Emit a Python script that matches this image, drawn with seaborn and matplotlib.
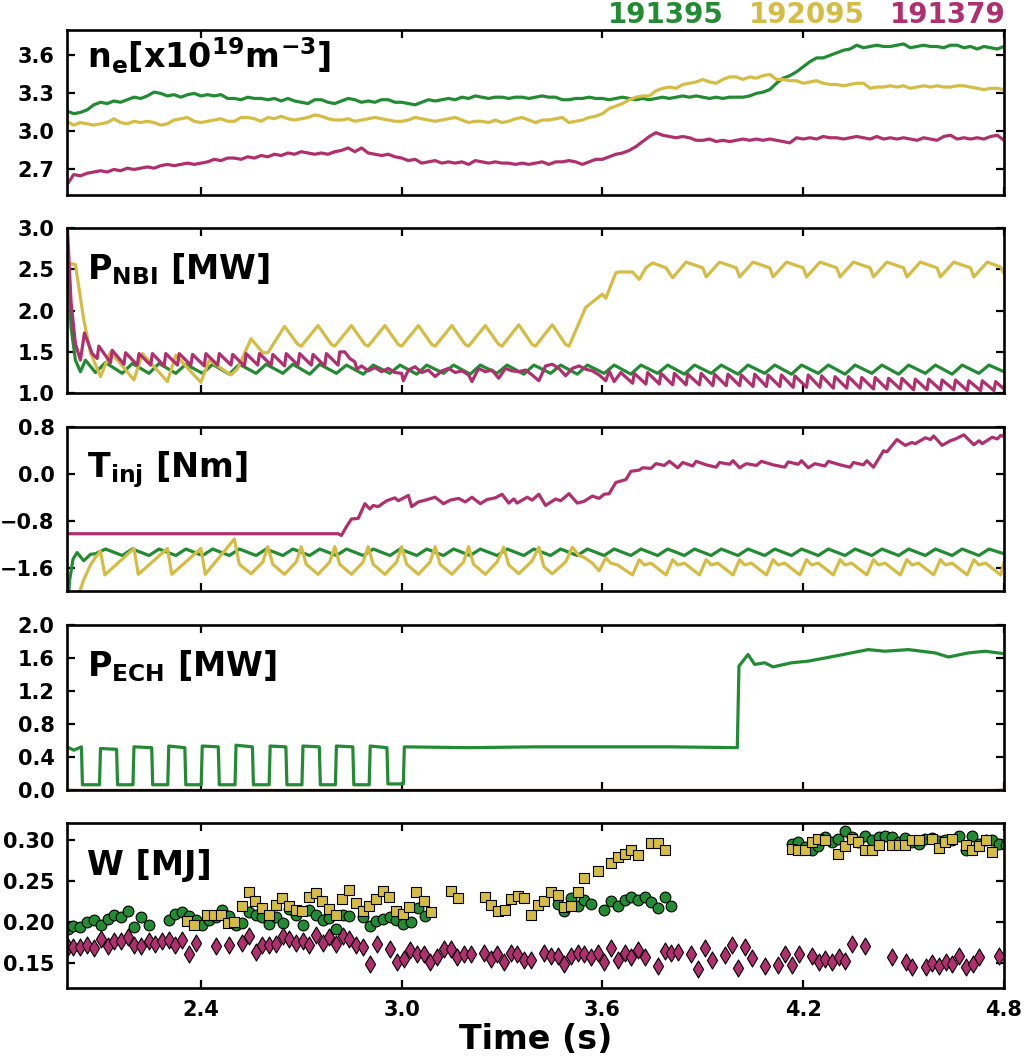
import numpy as np
import pandas as pd
import matplotlib
matplotlib.use("Agg")
import matplotlib.pyplot as plt
import seaborn as sns
from matplotlib.lines import Line2D
from matplotlib.ticker import FuncFormatter

# ---------------- data ----------------
SHOTS = ["191395", "192095", "191379"]
COLORS = {"191395": "#238B34", "192095": "#D5BD45", "191379": "#B0306F"}

# line-averaged density, sampled every 0.02 s from 2.00 to 4.80 s
NE_T = np.round(2.0 + 0.02 * np.arange(141), 2)
NE_191395 = [3.16, 3.14, 3.15, 3.17, 3.21, 3.23, 3.22, 3.24, 3.23, 3.25,
             3.27, 3.26, 3.28, 3.31, 3.30, 3.28, 3.29, 3.27, 3.29, 3.30,
             3.28, 3.29, 3.28, 3.29, 3.26, 3.26, 3.25, 3.27, 3.26, 3.26,
             3.25, 3.26, 3.24, 3.26, 3.24, 3.23, 3.22, 3.25, 3.25, 3.23,
             3.22, 3.24, 3.26, 3.25, 3.23, 3.24, 3.23, 3.25, 3.25, 3.23,
             3.23, 3.22, 3.21, 3.23, 3.25, 3.24, 3.25, 3.26, 3.25, 3.27,
             3.26, 3.28, 3.27, 3.26, 3.27, 3.27, 3.26, 3.27, 3.27, 3.26,
             3.27, 3.28, 3.27, 3.27, 3.25, 3.25, 3.26, 3.26, 3.27, 3.26,
             3.26, 3.25, 3.26, 3.27, 3.26, 3.25, 3.26, 3.25, 3.26, 3.27,
             3.26, 3.27, 3.28, 3.27, 3.28, 3.27, 3.26, 3.27, 3.26, 3.27,
             3.27, 3.27, 3.28, 3.30, 3.31, 3.33, 3.38, 3.42, 3.44, 3.47,
             3.51, 3.55, 3.58, 3.58, 3.60, 3.62, 3.64, 3.65, 3.68, 3.66,
             3.67, 3.68, 3.67, 3.67, 3.68, 3.69, 3.66, 3.67, 3.68, 3.67,
             3.67, 3.66, 3.68, 3.68, 3.66, 3.67, 3.65, 3.67, 3.66, 3.65,
             3.67]
NE_192095 = [3.08, 3.05, 3.07, 3.06, 3.05, 3.06, 3.07, 3.10, 3.07, 3.06,
             3.08, 3.07, 3.08, 3.07, 3.05, 3.06, 3.09, 3.10, 3.11, 3.08,
             3.07, 3.08, 3.09, 3.10, 3.08, 3.08, 3.11, 3.11, 3.10, 3.08,
             3.11, 3.10, 3.12, 3.10, 3.09, 3.10, 3.11, 3.13, 3.12, 3.10,
             3.09, 3.09, 3.10, 3.08, 3.09, 3.10, 3.11, 3.10, 3.09, 3.08,
             3.08, 3.09, 3.11, 3.10, 3.09, 3.08, 3.09, 3.10, 3.11, 3.09,
             3.07, 3.08, 3.08, 3.07, 3.09, 3.07, 3.08, 3.10, 3.11, 3.09,
             3.07, 3.09, 3.09, 3.10, 3.11, 3.07, 3.08, 3.09, 3.11, 3.12,
             3.14, 3.18, 3.20, 3.22, 3.25, 3.27, 3.28, 3.28, 3.32, 3.34,
             3.35, 3.34, 3.37, 3.38, 3.39, 3.41, 3.39, 3.38, 3.41, 3.43,
             3.43, 3.41, 3.43, 3.42, 3.44, 3.45, 3.41, 3.41, 3.40, 3.40,
             3.38, 3.39, 3.40, 3.38, 3.37, 3.37, 3.36, 3.37, 3.38, 3.38,
             3.34, 3.35, 3.35, 3.36, 3.35, 3.36, 3.34, 3.35, 3.36, 3.35,
             3.36, 3.35, 3.35, 3.36, 3.36, 3.35, 3.34, 3.33, 3.34, 3.34,
             3.33]
NE_191379 = [2.58, 2.66, 2.65, 2.67, 2.68, 2.69, 2.68, 2.70, 2.69, 2.71,
             2.70, 2.71, 2.72, 2.71, 2.73, 2.74, 2.73, 2.74, 2.75, 2.74,
             2.75, 2.76, 2.78, 2.77, 2.79, 2.79, 2.78, 2.80, 2.79, 2.81,
             2.80, 2.82, 2.81, 2.83, 2.82, 2.84, 2.83, 2.82, 2.83, 2.82,
             2.84, 2.85, 2.87, 2.84, 2.87, 2.83, 2.82, 2.81, 2.82, 2.80,
             2.79, 2.77, 2.78, 2.75, 2.76, 2.77, 2.75, 2.76, 2.75, 2.76,
             2.74, 2.77, 2.76, 2.75, 2.76, 2.75, 2.75, 2.74, 2.75, 2.74,
             2.75, 2.76, 2.74, 2.76, 2.76, 2.77, 2.76, 2.74, 2.76, 2.78,
             2.78, 2.80, 2.82, 2.83, 2.85, 2.88, 2.92, 2.96, 2.99, 2.97,
             2.96, 2.95, 2.96, 2.95, 2.93, 2.93, 2.94, 2.92, 2.93, 2.92,
             2.93, 2.94, 2.93, 2.94, 2.93, 2.94, 2.93, 2.92, 2.91, 2.95,
             2.94, 2.95, 2.94, 2.96, 2.95, 2.95, 2.94, 2.95, 2.96, 2.95,
             2.94, 2.96, 2.94, 2.95, 2.94, 2.95, 2.94, 2.93, 2.95, 2.94,
             2.93, 2.96, 2.97, 2.94, 2.95, 2.94, 2.95, 2.94, 2.96, 2.97,
             2.93]

# NBI power (time, MW) vertices
PNBI_191395 = [(2.000, 2.90), (2.012, 1.80), (2.025, 1.40), (2.040, 1.26), (2.055, 1.40), (2.085, 1.25),
               (2.115, 1.37), (2.165, 1.24), (2.195, 1.36), (2.245, 1.24), (2.275, 1.36), (2.325, 1.24),
               (2.355, 1.35), (2.405, 1.24), (2.435, 1.35), (2.485, 1.23), (2.515, 1.35), (2.565, 1.24),
               (2.595, 1.35), (2.645, 1.24), (2.675, 1.35), (2.725, 1.23), (2.755, 1.35), (2.805, 1.24),
               (2.835, 1.34), (2.885, 1.23), (2.915, 1.34), (2.965, 1.24), (2.995, 1.34), (3.045, 1.23),
               (3.075, 1.34), (3.125, 1.24), (3.155, 1.34), (3.205, 1.23), (3.235, 1.34), (3.285, 1.24),
               (3.315, 1.34), (3.365, 1.23), (3.395, 1.34), (3.445, 1.24), (3.475, 1.34), (3.525, 1.23),
               (3.555, 1.34), (3.605, 1.24), (3.635, 1.34), (3.685, 1.23), (3.715, 1.34), (3.765, 1.24),
               (3.795, 1.34), (3.845, 1.23), (3.875, 1.34), (3.925, 1.24), (3.955, 1.34), (4.005, 1.23),
               (4.035, 1.34), (4.085, 1.24), (4.115, 1.34), (4.165, 1.23), (4.195, 1.34), (4.245, 1.24),
               (4.275, 1.34), (4.325, 1.23), (4.355, 1.34), (4.405, 1.24), (4.435, 1.34), (4.485, 1.23),
               (4.515, 1.34), (4.565, 1.24), (4.595, 1.34), (4.645, 1.23), (4.675, 1.34), (4.725, 1.24),
               (4.755, 1.34), (4.800, 1.26)]
PNBI_192095 = [(2.000, 2.58), (2.025, 2.56), (2.050, 1.89), (2.070, 1.49), (2.100, 1.20), (2.130, 1.50),
               (2.200, 1.16), (2.225, 1.48), (2.300, 1.14), (2.325, 1.46), (2.400, 1.13), (2.425, 1.40),
               (2.490, 1.22), (2.510, 1.30), (2.550, 1.66), (2.585, 1.49), (2.600, 1.49), (2.650, 1.81),
               (2.690, 1.59), (2.700, 1.57), (2.750, 1.82), (2.790, 1.59), (2.800, 1.57), (2.850, 1.82),
               (2.890, 1.59), (2.900, 1.57), (2.950, 1.82), (2.990, 1.59), (3.000, 1.57), (3.050, 1.82),
               (3.090, 1.59), (3.100, 1.57), (3.150, 1.82), (3.190, 1.59), (3.200, 1.57), (3.250, 1.82),
               (3.290, 1.59), (3.300, 1.57), (3.350, 1.83), (3.390, 1.59), (3.400, 1.57), (3.450, 1.83),
               (3.490, 1.59), (3.500, 1.57), (3.550, 2.04), (3.590, 2.17), (3.600, 2.20), (3.610, 2.15),
               (3.640, 2.46), (3.650, 2.47), (3.690, 2.47), (3.710, 2.38), (3.730, 2.52), (3.750, 2.58),
               (3.790, 2.52), (3.810, 2.40), (3.850, 2.59), (3.900, 2.52), (3.910, 2.41), (3.950, 2.59),
               (4.000, 2.52), (4.010, 2.41), (4.050, 2.59), (4.100, 2.52), (4.110, 2.41), (4.150, 2.59),
               (4.200, 2.52), (4.210, 2.41), (4.250, 2.59), (4.300, 2.52), (4.310, 2.41), (4.350, 2.59),
               (4.400, 2.52), (4.410, 2.41), (4.450, 2.59), (4.500, 2.52), (4.510, 2.41), (4.550, 2.59),
               (4.600, 2.52), (4.610, 2.41), (4.650, 2.59), (4.700, 2.52), (4.710, 2.41), (4.750, 2.59),
               (4.790, 2.53), (4.800, 2.45)]
PNBI_191379 = [(2.000, 3.10), (2.012, 2.10), (2.025, 1.60), (2.040, 1.40), (2.052, 1.73), (2.075, 1.48),
               (2.090, 1.42), (2.095, 1.57), (2.130, 1.37), (2.135, 1.52), (2.170, 1.35),
               (2.175, 1.49), (2.210, 1.34), (2.215, 1.48), (2.250, 1.34), (2.255, 1.48), (2.290, 1.33),
               (2.295, 1.48), (2.330, 1.34), (2.335, 1.48), (2.370, 1.34), (2.375, 1.47), (2.410, 1.33),
               (2.415, 1.48), (2.450, 1.34), (2.455, 1.48), (2.490, 1.34), (2.495, 1.47), (2.530, 1.33),
               (2.535, 1.48), (2.570, 1.34), (2.575, 1.48), (2.610, 1.34), (2.615, 1.47), (2.650, 1.33),
               (2.655, 1.48), (2.690, 1.34), (2.695, 1.48), (2.730, 1.34), (2.735, 1.47), (2.770, 1.33),
               (2.775, 1.48), (2.810, 1.34),
               (2.815, 1.50), (2.830, 1.50), (2.845, 1.42), (2.860, 1.38), (2.866, 1.29), (2.880, 1.33),
               (2.900, 1.27), (2.920, 1.31), (2.940, 1.26), (2.960, 1.30), (2.980, 1.25), (3.000, 1.24),
               (3.005, 1.15), (3.020, 1.28), (3.040, 1.32), (3.060, 1.25), (3.080, 1.28), (3.100, 1.20),
               (3.120, 1.27), (3.140, 1.30), (3.160, 1.25), (3.180, 1.27), (3.200, 1.22), (3.210, 1.14),
               (3.230, 1.30), (3.250, 1.26), (3.270, 1.28), (3.290, 1.18), (3.310, 1.30), (3.330, 1.27),
               (3.350, 1.26), (3.370, 1.28), (3.390, 1.22), (3.410, 1.15), (3.430, 1.33), (3.450, 1.35),
               (3.470, 1.30), (3.490, 1.21), (3.510, 1.30), (3.530, 1.33), (3.550, 1.29), (3.570, 1.27),
               (3.590, 1.22), (3.610, 1.15), (3.620, 1.27), (3.635, 1.14),
               (3.655, 1.25), (3.690, 1.12), (3.695, 1.24), (3.730, 1.11), (3.735, 1.25), (3.770, 1.11),
               (3.775, 1.24), (3.810, 1.10), (3.815, 1.24), (3.850, 1.10), (3.855, 1.23), (3.890, 1.10),
               (3.895, 1.24), (3.930, 1.09), (3.935, 1.23), (3.970, 1.09), (3.975, 1.23), (4.010, 1.09),
               (4.015, 1.22), (4.050, 1.08), (4.055, 1.23), (4.090, 1.08), (4.095, 1.22), (4.130, 1.08),
               (4.135, 1.22), (4.170, 1.07), (4.175, 1.21), (4.210, 1.07), (4.215, 1.22), (4.250, 1.07),
               (4.255, 1.21), (4.290, 1.06), (4.295, 1.20), (4.330, 1.06), (4.335, 1.20), (4.370, 1.06),
               (4.375, 1.19), (4.410, 1.05), (4.415, 1.19), (4.450, 1.05), (4.455, 1.18), (4.490, 1.05),
               (4.495, 1.18), (4.530, 1.04), (4.535, 1.17), (4.570, 1.04), (4.575, 1.17), (4.610, 1.04),
               (4.615, 1.16), (4.650, 1.04), (4.655, 1.16), (4.690, 1.03), (4.695, 1.15), (4.730, 1.03),
               (4.735, 1.15), (4.770, 1.03), (4.775, 1.14), (4.800, 1.05)]

# injected torque (time, N m) vertices
TINJ_191395 = [(2.000, -2.40), (2.008, -1.80), (2.018, -1.45), (2.030, -1.34), (2.050, -1.48), (2.070, -1.37),
               (2.085, -1.36), (2.115, -1.28), (2.165, -1.39), (2.195, -1.28), (2.245, -1.39), (2.275, -1.28),
               (2.325, -1.39), (2.355, -1.28), (2.405, -1.39), (2.435, -1.28), (2.485, -1.39), (2.515, -1.28),
               (2.565, -1.39), (2.595, -1.28), (2.645, -1.39), (2.675, -1.28), (2.725, -1.39), (2.755, -1.28),
               (2.805, -1.39), (2.835, -1.28), (2.885, -1.39), (2.915, -1.28), (2.965, -1.39), (2.995, -1.28),
               (3.045, -1.39), (3.075, -1.28), (3.125, -1.39), (3.155, -1.28), (3.205, -1.39), (3.235, -1.28),
               (3.285, -1.39), (3.315, -1.28), (3.365, -1.39), (3.395, -1.28), (3.445, -1.39), (3.475, -1.28),
               (3.525, -1.39), (3.555, -1.28), (3.605, -1.39), (3.635, -1.28), (3.685, -1.39), (3.715, -1.28),
               (3.765, -1.39), (3.795, -1.28), (3.845, -1.39), (3.875, -1.28), (3.925, -1.39), (3.955, -1.28),
               (4.005, -1.39), (4.035, -1.28), (4.085, -1.39), (4.115, -1.28), (4.165, -1.39), (4.195, -1.28),
               (4.245, -1.39), (4.275, -1.28), (4.325, -1.39), (4.355, -1.28), (4.405, -1.39), (4.435, -1.28),
               (4.485, -1.39), (4.515, -1.28), (4.565, -1.39), (4.595, -1.28), (4.645, -1.39), (4.675, -1.28),
               (4.725, -1.39), (4.755, -1.28), (4.800, -1.36)]
TINJ_192095 = [(2.035, -2.05), (2.050, -1.80), (2.070, -1.55), (2.085, -1.42), (2.100, -1.32), (2.113, -1.72),
               (2.200, -1.27), (2.213, -1.71), (2.300, -1.27), (2.313, -1.71), (2.400, -1.27), (2.413, -1.71),
               (2.500, -1.11), (2.515, -1.54), (2.550, -1.70), (2.585, -1.50), (2.600, -1.24), (2.615, -1.54),
               (2.650, -1.71), (2.685, -1.50), (2.700, -1.24), (2.715, -1.54), (2.750, -1.71), (2.785, -1.50),
               (2.800, -1.24), (2.815, -1.54), (2.850, -1.71), (2.885, -1.50), (2.900, -1.24), (2.915, -1.54),
               (2.950, -1.71), (2.985, -1.50), (3.000, -1.24), (3.015, -1.54), (3.050, -1.71), (3.085, -1.50),
               (3.100, -1.24), (3.115, -1.54), (3.150, -1.71), (3.185, -1.50), (3.200, -1.24), (3.215, -1.54),
               (3.250, -1.71), (3.285, -1.50), (3.305, -1.25), (3.320, -1.55), (3.350, -1.70), (3.390, -1.48),
               (3.410, -1.25), (3.425, -1.58), (3.450, -1.70), (3.490, -1.50), (3.510, -1.25), (3.530, -1.39),
               (3.545, -1.42), (3.570, -1.52), (3.590, -1.65), (3.610, -1.43), (3.625, -1.52), (3.645, -1.55),
               (3.690, -1.72), (3.710, -1.46), (3.725, -1.55), (3.745, -1.52), (3.790, -1.72), (3.810, -1.46),
               (3.825, -1.55), (3.845, -1.52), (3.890, -1.72), (3.910, -1.46), (3.925, -1.55), (3.945, -1.52),
               (3.990, -1.72), (4.010, -1.46), (4.025, -1.55), (4.045, -1.52), (4.090, -1.72), (4.110, -1.46),
               (4.125, -1.55), (4.145, -1.52), (4.190, -1.72), (4.210, -1.46), (4.225, -1.55), (4.245, -1.52),
               (4.290, -1.72), (4.310, -1.46), (4.325, -1.55), (4.345, -1.52), (4.390, -1.72), (4.410, -1.46),
               (4.425, -1.55), (4.445, -1.52), (4.490, -1.72), (4.510, -1.46), (4.525, -1.55), (4.545, -1.52),
               (4.590, -1.72), (4.610, -1.46), (4.625, -1.55), (4.645, -1.52), (4.690, -1.72), (4.710, -1.46),
               (4.725, -1.55), (4.745, -1.52), (4.790, -1.72), (4.800, -1.50)]
TINJ_191379 = [(2.000, -1.02), (2.810, -1.02), (2.820, -1.05), (2.835, -0.90), (2.850, -0.77), (2.870, -0.76),
               (2.890, -0.51), (2.905, -0.60), (2.915, -0.54), (2.930, -0.56), (2.955, -0.46), (2.980, -0.41),
               (2.990, -0.46), (3.020, -0.37), (3.030, -0.56), (3.050, -0.48), (3.070, -0.45), (3.100, -0.40),
               (3.125, -0.51), (3.145, -0.45), (3.170, -0.42), (3.190, -0.48), (3.210, -0.40), (3.235, -0.51),
               (3.255, -0.44), (3.280, -0.41), (3.300, -0.35), (3.320, -0.50), (3.335, -0.43), (3.345, -0.50),
               (3.375, -0.40), (3.390, -0.45), (3.410, -0.35), (3.430, -0.54), (3.460, -0.43), (3.475, -0.46),
               (3.500, -0.34), (3.525, -0.50), (3.545, -0.47), (3.570, -0.38), (3.590, -0.42), (3.605, -0.35),
               (3.620, -0.34), (3.640, -0.15), (3.670, -0.10), (3.685, 0.04), (3.710, 0.06), (3.720, 0.10),
               (3.745, 0.09), (3.760, 0.17), (3.785, 0.14), (3.800, 0.21), (3.825, 0.10), (3.840, 0.19),
               (3.870, 0.13), (3.880, 0.21), (3.910, 0.15), (3.940, 0.11), (3.950, 0.19), (3.980, 0.16),
               (3.990, 0.22), (4.010, 0.10), (4.030, 0.17), (4.060, 0.14), (4.075, 0.21), (4.110, 0.15),
               (4.145, 0.11), (4.155, 0.20), (4.185, 0.16), (4.195, 0.22), (4.215, 0.10), (4.235, 0.17),
               (4.265, 0.13), (4.275, 0.21), (4.310, 0.15), (4.340, 0.11), (4.350, 0.19), (4.380, 0.15),
               (4.390, 0.22), (4.410, 0.11), (4.440, 0.39), (4.450, 0.37), (4.480, 0.58), (4.505, 0.48),
               (4.525, 0.53), (4.535, 0.51), (4.565, 0.61), (4.580, 0.58), (4.590, 0.64), (4.615, 0.48),
               (4.640, 0.56), (4.655, 0.59), (4.680, 0.66), (4.710, 0.49), (4.725, 0.56), (4.735, 0.51),
               (4.765, 0.62), (4.780, 0.59), (4.790, 0.65), (4.800, 0.63)]

# ECH power (time, MW) vertices
PECH_191395 = [(2.000, 0.52), (2.020, 0.48), (2.043, 0.52), (2.046, 0.06), (2.097, 0.06), (2.100, 0.50),
               (2.148, 0.49), (2.151, 0.06), (2.197, 0.06), (2.200, 0.52), (2.253, 0.51), (2.256, 0.06),
               (2.301, 0.06), (2.304, 0.53), (2.352, 0.51), (2.355, 0.06), (2.401, 0.06), (2.404, 0.53),
               (2.452, 0.52), (2.455, 0.06), (2.502, 0.06), (2.505, 0.54), (2.554, 0.52), (2.557, 0.06),
               (2.604, 0.06), (2.607, 0.53), (2.654, 0.52), (2.657, 0.06), (2.702, 0.06), (2.705, 0.53),
               (2.754, 0.52), (2.757, 0.06), (2.802, 0.06), (2.805, 0.53), (2.854, 0.52), (2.857, 0.06),
               (2.903, 0.06), (2.906, 0.53), (2.956, 0.51), (2.959, 0.07), (3.005, 0.07), (3.008, 0.52),
               (3.200, 0.51), (3.400, 0.52), (3.600, 0.52), (3.800, 0.52), (4.003, 0.51), (4.008, 1.50),
               (4.035, 1.64), (4.055, 1.52), (4.085, 1.54), (4.110, 1.49), (4.165, 1.54), (4.215, 1.56),
               (4.294, 1.62), (4.344, 1.66), (4.394, 1.70), (4.444, 1.68), (4.514, 1.70), (4.594, 1.66),
               (4.634, 1.61), (4.694, 1.66), (4.744, 1.68), (4.800, 1.65)]
PECH_192095 = [(2.000, 0.0), (4.800, 0.0)]
PECH_191379 = [(2.000, 0.0), (4.800, 0.0)]

# stored energy (time, MJ) samples
W_191395 = [(2.004, 0.192), (2.019, 0.195), (2.039, 0.194), (2.061, 0.200), (2.081, 0.202), (2.101, 0.196),
            (2.121, 0.204), (2.141, 0.209), (2.161, 0.206), (2.181, 0.213), (2.201, 0.194), (2.221, 0.206),
            (2.244, 0.196), (2.304, 0.203), (2.324, 0.210), (2.344, 0.212), (2.364, 0.207), (2.384, 0.203),
            (2.404, 0.196), (2.424, 0.203), (2.444, 0.206), (2.464, 0.215), (2.484, 0.207), (2.504, 0.196),
            (2.524, 0.199), (2.544, 0.212), (2.564, 0.209), (2.584, 0.206), (2.604, 0.198), (2.624, 0.206),
            (2.644, 0.199), (2.664, 0.216), (2.684, 0.209), (2.704, 0.196), (2.724, 0.215), (2.744, 0.209),
            (2.764, 0.202), (2.784, 0.205), (2.804, 0.192), (2.824, 0.209), (2.844, 0.207), (2.884, 0.206),
            (2.904, 0.195), (2.924, 0.201), (2.944, 0.204), (2.964, 0.206), (2.984, 0.203), (3.004, 0.198),
            (3.029, 0.200), (3.049, 0.217), (3.069, 0.207),
            (3.466, 0.222), (3.486, 0.214), (3.506, 0.229), (3.526, 0.219), (3.546, 0.227), (3.566, 0.222),
            (3.606, 0.215), (3.626, 0.226), (3.646, 0.220), (3.666, 0.227), (3.686, 0.230), (3.706, 0.227),
            (3.726, 0.230), (3.746, 0.224), (3.766, 0.217), (3.786, 0.230), (3.806, 0.220),
            (4.165, 0.295), (4.185, 0.297), (4.205, 0.291), (4.225, 0.288), (4.245, 0.292), (4.265, 0.303),
            (4.285, 0.297), (4.305, 0.301), (4.325, 0.310), (4.345, 0.303), (4.365, 0.297), (4.385, 0.305),
            (4.405, 0.299), (4.425, 0.303), (4.445, 0.305), (4.465, 0.303), (4.485, 0.297), (4.505, 0.302),
            (4.525, 0.297), (4.545, 0.295), (4.565, 0.301), (4.585, 0.302), (4.605, 0.298), (4.625, 0.300),
            (4.645, 0.299), (4.665, 0.304), (4.685, 0.288), (4.705, 0.304), (4.725, 0.295), (4.745, 0.300),
            (4.765, 0.299), (4.785, 0.295), (4.805, 0.293)]
W_192095 = [(2.358, 0.201), (2.378, 0.196), (2.418, 0.208), (2.438, 0.209), (2.460, 0.208), (2.480, 0.199),
            (2.500, 0.200), (2.523, 0.220), (2.543, 0.236), (2.563, 0.225), (2.583, 0.217), (2.603, 0.209),
            (2.623, 0.221), (2.643, 0.229), (2.663, 0.219), (2.683, 0.215), (2.703, 0.214), (2.723, 0.231),
            (2.743, 0.235), (2.763, 0.225), (2.783, 0.216), (2.803, 0.209), (2.823, 0.228), (2.843, 0.239),
            (2.863, 0.223), (2.883, 0.213), (2.903, 0.219), (2.923, 0.228), (2.943, 0.238), (2.963, 0.231),
            (2.983, 0.214), (3.003, 0.210), (3.023, 0.218), (3.043, 0.237), (3.066, 0.225), (3.088, 0.212),
            (3.148, 0.238), (3.168, 0.229), (3.248, 0.230), (3.268, 0.221), (3.288, 0.213), (3.308, 0.215),
            (3.328, 0.228), (3.348, 0.232), (3.366, 0.229), (3.386, 0.208), (3.406, 0.221), (3.426, 0.226),
            (3.446, 0.236), (3.466, 0.233), (3.486, 0.218), (3.506, 0.219), (3.526, 0.236), (3.546, 0.254),
            (3.586, 0.262), (3.626, 0.272), (3.646, 0.279), (3.666, 0.282), (3.686, 0.288), (3.706, 0.281),
            (3.746, 0.296), (3.766, 0.296), (3.786, 0.288),
            (4.165, 0.289), (4.185, 0.288), (4.205, 0.288), (4.225, 0.297), (4.245, 0.301), (4.265, 0.299),
            (4.305, 0.283), (4.325, 0.292), (4.345, 0.301), (4.365, 0.297), (4.385, 0.288), (4.405, 0.288),
            (4.425, 0.294), (4.465, 0.294), (4.485, 0.294), (4.505, 0.293), (4.525, 0.299), (4.545, 0.299),
            (4.585, 0.301), (4.605, 0.290), (4.625, 0.297), (4.645, 0.301), (4.685, 0.294), (4.705, 0.287),
            (4.725, 0.292), (4.745, 0.299), (4.765, 0.285)]
W_191379 = [(2.004, 0.170), (2.019, 0.170), (2.039, 0.170), (2.061, 0.172), (2.081, 0.169), (2.101, 0.180),
            (2.121, 0.171), (2.141, 0.177), (2.161, 0.177), (2.181, 0.182), (2.201, 0.172), (2.221, 0.171),
            (2.244, 0.177), (2.264, 0.173), (2.284, 0.177), (2.304, 0.178), (2.324, 0.172), (2.344, 0.178),
            (2.364, 0.161), (2.384, 0.175), (2.444, 0.171), (2.484, 0.172), (2.524, 0.175), (2.544, 0.183),
            (2.564, 0.164), (2.584, 0.172), (2.604, 0.172), (2.624, 0.173), (2.644, 0.183), (2.664, 0.180),
            (2.684, 0.175), (2.704, 0.177), (2.724, 0.172), (2.744, 0.184), (2.764, 0.175), (2.784, 0.182),
            (2.804, 0.173), (2.824, 0.183), (2.844, 0.179), (2.864, 0.172), (2.884, 0.170), (2.904, 0.149),
            (2.926, 0.173), (2.966, 0.167), (2.986, 0.152), (3.006, 0.155), (3.026, 0.166), (3.046, 0.161),
            (3.066, 0.161), (3.086, 0.151), (3.106, 0.157), (3.126, 0.167), (3.146, 0.167), (3.166, 0.157),
            (3.186, 0.161), (3.206, 0.161), (3.246, 0.162), (3.266, 0.155), (3.286, 0.161), (3.306, 0.152),
            (3.326, 0.163), (3.346, 0.161), (3.366, 0.154), (3.386, 0.154), (3.426, 0.162), (3.446, 0.159),
            (3.466, 0.159), (3.486, 0.149), (3.506, 0.159), (3.526, 0.163), (3.546, 0.161), (3.566, 0.157),
            (3.586, 0.163), (3.606, 0.151), (3.626, 0.168), (3.646, 0.154), (3.666, 0.163), (3.686, 0.158),
            (3.706, 0.166), (3.726, 0.157), (3.766, 0.147), (3.786, 0.165), (3.806, 0.162), (3.826, 0.164),
            (3.866, 0.161), (3.886, 0.143), (3.906, 0.168), (3.926, 0.154), (3.966, 0.160), (3.986, 0.172),
            (4.006, 0.144), (4.026, 0.170), (4.046, 0.156), (4.086, 0.147), (4.126, 0.148), (4.146, 0.161),
            (4.166, 0.148), (4.186, 0.161), (4.226, 0.159), (4.246, 0.152), (4.266, 0.155), (4.286, 0.151),
            (4.306, 0.157), (4.326, 0.153), (4.346, 0.173), (4.386, 0.171), (4.466, 0.157), (4.506, 0.151),
            (4.526, 0.146), (4.566, 0.146), (4.586, 0.150), (4.606, 0.147), (4.626, 0.151), (4.646, 0.149),
            (4.666, 0.159), (4.686, 0.145), (4.706, 0.149), (4.726, 0.157), (4.786, 0.159)]

PANEL_LABELS = [r"n$_{e}$[x10$^{19}$m$^{-3}$]", r"P$_{NBI}$ [MW]", r"T$_{inj}$ [Nm]",
                r"P$_{ECH}$ [MW]", r"W [MJ]"]
X_TICKS = [2.4, 3.0, 3.6, 4.2, 4.8]

# ---------------- style ----------------
sns.set_style("ticks")
plt.rcParams.update({
    "font.family": ["DejaVu Sans"],
    "font.weight": "bold",
    "mathtext.fontset": "dejavusans",
    "mathtext.default": "bf",
    "axes.linewidth": 1.9,
    "axes.edgecolor": "black",
    "xtick.direction": "in", "ytick.direction": "in",
    "xtick.top": True, "ytick.right": True,
    "xtick.major.size": 6, "ytick.major.size": 6,
    "xtick.major.width": 1.6, "ytick.major.width": 1.6,
    "xtick.labelsize": 15, "ytick.labelsize": 15,
    "xtick.major.pad": 9, "ytick.major.pad": 9,
    "xtick.color": "black", "ytick.color": "black",
    "text.color": "black", "axes.labelcolor": "black",
})


def frame(series):
    rows = []
    for shot, pts in series.items():
        for t, v in pts:
            rows.append((t, v, shot))
    return pd.DataFrame(rows, columns=["t", "v", "shot"])


def fmt_factory(fmt):
    return FuncFormatter(lambda v, p: (fmt % v).replace("-", "\u2212"))


fig, axes = plt.subplots(5, 1, figsize=(10.25, 10.56), dpi=100, sharex=True)
fig.subplots_adjust(left=0.0654, right=0.9795, top=0.9716, bottom=0.0644, hspace=0.203)

line_sets = [
    {"191395": list(zip(NE_T, NE_191395)), "192095": list(zip(NE_T, NE_192095)),
     "191379": list(zip(NE_T, NE_191379))},
    {"191395": PNBI_191395, "192095": PNBI_192095, "191379": PNBI_191379},
    {"191395": TINJ_191395, "192095": TINJ_192095, "191379": TINJ_191379},
    {"191395": PECH_191395, "192095": PECH_192095, "191379": PECH_191379},
]
ylims = [(2.5, 3.8), (1.0, 3.0), (-2.0, 0.8), (0.0, 2.0), (0.12, 0.32)]
yticks = [[2.7, 3.0, 3.3, 3.6], [1.0, 1.5, 2.0, 2.5, 3.0], [-1.6, -0.8, 0.0, 0.8],
          [0.0, 0.4, 0.8, 1.2, 1.6, 2.0], [0.15, 0.20, 0.25, 0.30]]
yfmt = ["%.1f", "%.1f", "%.1f", "%.1f", "%.2f"]
label_y = [0.77, 0.69, 0.69, 0.685, 0.685]

for ax, series in zip(axes[:4], line_sets):
    df = frame(series)
    sns.lineplot(data=df, x="t", y="v", hue="shot", hue_order=SHOTS, palette=COLORS,
                 estimator=None, sort=False, linewidth=2.3, legend=False, ax=ax)

wax = axes[4]
w_sets = [("191395", W_191395, "o", 60), ("192095", W_192095, "s", 60), ("191379", W_191379, "d", 75)]
for shot, pts, mk, sz in w_sets:
    dfw = frame({shot: pts})
    sns.scatterplot(data=dfw, x="t", y="v", color=COLORS[shot], marker=mk, s=sz,
                    edgecolor="black", linewidth=0.8, legend=False, ax=wax)

for i, ax in enumerate(axes):
    ax.set_xlim(2.0, 4.8)
    ax.set_ylim(*ylims[i])
    ax.set_yticks(yticks[i])
    ax.yaxis.set_major_formatter(fmt_factory(yfmt[i]))
    ax.set_xticks(X_TICKS)
    ax.set_xlabel("")
    ax.set_ylabel("")
    ax.tick_params(which="both", direction="in", top=True, right=True)
    ax.minorticks_off()
    for sp in ax.spines.values():
        sp.set_visible(True)
        sp.set_linewidth(1.9)
        sp.set_color("black")
    ax.text(0.021, label_y[i], PANEL_LABELS[i], transform=ax.transAxes, fontsize=24,
            fontweight="bold", va="baseline", ha="left")

axes[-1].xaxis.set_major_formatter(fmt_factory("%.1f"))
axes[-1].set_xlabel("Time (s)", fontsize=24, fontweight="bold", labelpad=2)

handles = [Line2D([], [], color=COLORS[s], lw=0) for s in SHOTS]
leg = axes[0].legend(handles, SHOTS, ncol=3, loc="lower right", bbox_to_anchor=(1.0015, 1.005),
                     frameon=False, handlelength=0, handletextpad=0, columnspacing=0.9,
                     borderpad=0, borderaxespad=0, labelcolor="linecolor",
                     prop={"weight": "bold", "size": 20})

fig.savefig("out.png", dpi=100)
